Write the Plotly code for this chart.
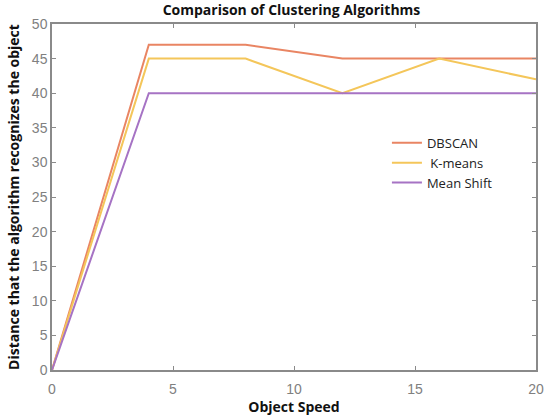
import plotly.graph_objects as go

speed = [0, 4, 8, 12, 16, 20]
dbscan = [0, 47, 47, 45, 45, 45]
kmeans = [0, 45, 45, 40, 45, 42]
meanshift = [0, 40, 40, 40, 40, 40]

names = ["DBSCAN", " K-means", "Mean Shift"]
colors = ["#E98563", "#F4C65A", "#A673C4"]

fig = go.Figure()
for name, ys, c in zip(names, [dbscan, kmeans, meanshift], colors):
    fig.add_trace(go.Scatter(x=speed, y=ys, mode="lines", name=name,
                             line=dict(color=c, width=2)))

axis_common = dict(showgrid=False, zeroline=False, showline=True, mirror="ticks",
                   linecolor="#8a8a8a", linewidth=1.5, ticks="inside", ticklen=4,
                   tickcolor="#8a8a8a", automargin=False,
                   tickfont=dict(family="Liberation Sans", size=14, color="#808080"))

fig.update_layout(
    width=550, height=418,
    paper_bgcolor="white", plot_bgcolor="white",
    margin=dict(l=52, r=14, t=24, b=48),
    title=dict(text="<b>Comparison of Clustering Algorithms</b>", x=0.53, xanchor="center",
               y=0.976, yanchor="middle",
               font=dict(family="Open Sans", size=14, color="#111")),
    xaxis=dict(range=[0, 20], tickvals=[0, 5, 10, 15, 20], ticklabelstandoff=5,
               title=dict(text="<b>Object Speed</b>", standoff=2,
                          font=dict(family="Open Sans", size=14, color="#111")),
               **axis_common),
    yaxis=dict(range=[0, 50], tickvals=list(range(0, 51, 5)),
               title=dict(text="<b>Distance that the algorithm recognizes the object</b>", standoff=9,
                          font=dict(family="Open Sans", size=14, color="#111")),
               **axis_common),
    legend=dict(x=0.692, y=0.70, xanchor="left", yanchor="top", bgcolor="rgba(0,0,0,0)",
                font=dict(family="Open Sans", size=13, color="#222"), tracegroupgap=0),
)

fig.write_html("out.html", config={"displayModeBar": False},
               post_script="document.body.style.margin='0';")
